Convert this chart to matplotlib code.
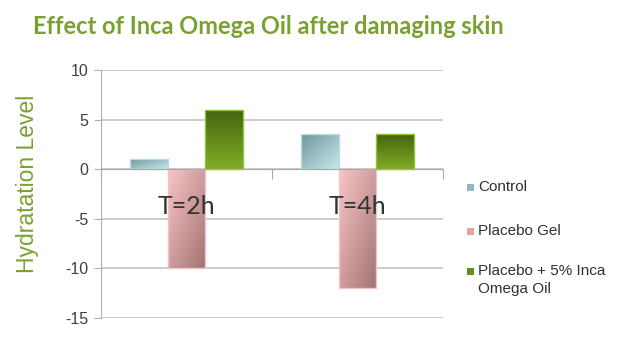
import numpy as np
import matplotlib
matplotlib.use('Agg')
import matplotlib.pyplot as plt
from matplotlib.colors import LinearSegmentedColormap
from matplotlib.patches import Rectangle

plt.rcParams['axes.unicode_minus'] = False

# dati
tempi = ['T=2h', 'T=4h']
serie = ['Control', 'Placebo Gel', 'Placebo + 5% Inca\nOmega Oil']
control = [1, 3.5]
placebo_gel = [-10, -12]
placebo_inca = [6, 3.5]
valori = [control, placebo_gel, placebo_inca]

# colori sfumati (inizio, fine) + direzione
sfumature = [('#6f979d', '#c6e8ec', 'diag'),
             ('#f9c6c6', '#a37373', 'diag'),
             ('#456410', '#80ad26', 'vert')]
bordi = ['#b9dde2', '#f2c4c4', '#8cc43c']
colori_legenda = ['#8fb9bf', '#e0a5a5', '#62901c']

fig = plt.figure(figsize=(6.29, 3.57), dpi=100)
ax = fig.add_axes([0.1606, 0.1092, 0.5437, 0.6947])

x = np.arange(len(tempi))
w = 0.222
for i, (vals, (c1, c2, modo)) in enumerate(zip(valori, sfumature)):
    bars = ax.bar(x + (i - 1) * w, vals, w, color='none', edgecolor=bordi[i],
                  linewidth=1, zorder=3)
    cmap = LinearSegmentedColormap.from_list('g%d' % i, [c1, c2])
    gx, gy = np.meshgrid(np.linspace(0, 1, 50), np.linspace(0, 1, 50))
    if modo == 'diag':
        grad = (gx + gy) / 2
    else:
        grad = gy
    for b in bars:
        x0, y0, bw, bh = b.get_x(), b.get_y(), b.get_width(), b.get_height()
        top, bot = max(y0, y0 + bh), min(y0, y0 + bh)
        im = ax.imshow(grad, extent=[x0, x0 + bw, bot, top], origin='upper',
                       cmap=cmap, aspect='auto', zorder=2, interpolation='bilinear')
        im.set_clip_path(b)

ax.set_xlim(-0.5, 1.5)
ax.set_ylim(-15, 10)
ax.set_yticks(np.arange(-15, 11, 5))
ax.yaxis.grid(True, color='#c4c4c4', linewidth=1.2, zorder=0)
ax.set_axisbelow(True)
for s in ['top', 'right']:
    ax.spines[s].set_visible(False)
ax.spines['left'].set_color('#b0b0b0')
ax.spines['bottom'].set_position(('data', 0))
ax.spines['bottom'].set_color('#a8a8a8')
ax.spines['bottom'].set_zorder(4)
ax.set_xticks([-0.5, 0.5, 1.5])
ax.set_xticklabels([])
ax.tick_params(axis='x', length=7, color='#a8a8a8', direction='out')
ax.tick_params(axis='y', length=5, color='#b0b0b0', labelsize=11.5,
               labelcolor='#404040', pad=4)
for t in ax.get_yticklabels():
    t.set_fontfamily('Liberation Sans')

for xi, t in zip(x, tempi):
    ax.text(xi, -3.8, t, ha='center', va='center', fontsize=18,
            family='Lato', color='#333333', zorder=5)

ax.set_ylabel('Hydratation Level', fontsize=16.5, family='Liberation Sans',
              color='#78a22f')
ax.yaxis.set_label_coords(-0.18, 0.54)

fig.text(0.053, 0.927, 'Effect of Inca Omega Oil after damaging skin',
         fontsize=17, family='Lato', weight='bold', color='#78a22f',
         ha='left', va='center')

# legenda manuale
ys = [187, 231, 271]
for nome, col, yp in zip(serie, colori_legenda, ys):
    fig.patches.append(Rectangle((467 / 629, 1 - (yp + 3.5) / 357), 7 / 629, 7 / 357,
                                 transform=fig.transFigure, facecolor=col,
                                 edgecolor='none'))
    fig.text(478 / 629, 1 - (yp - 7) / 357, nome, fontsize=11,
             family='Liberation Sans', color='#303030', ha='left', va='top',
             linespacing=1.35)

fig.savefig('out.png', dpi=100)
